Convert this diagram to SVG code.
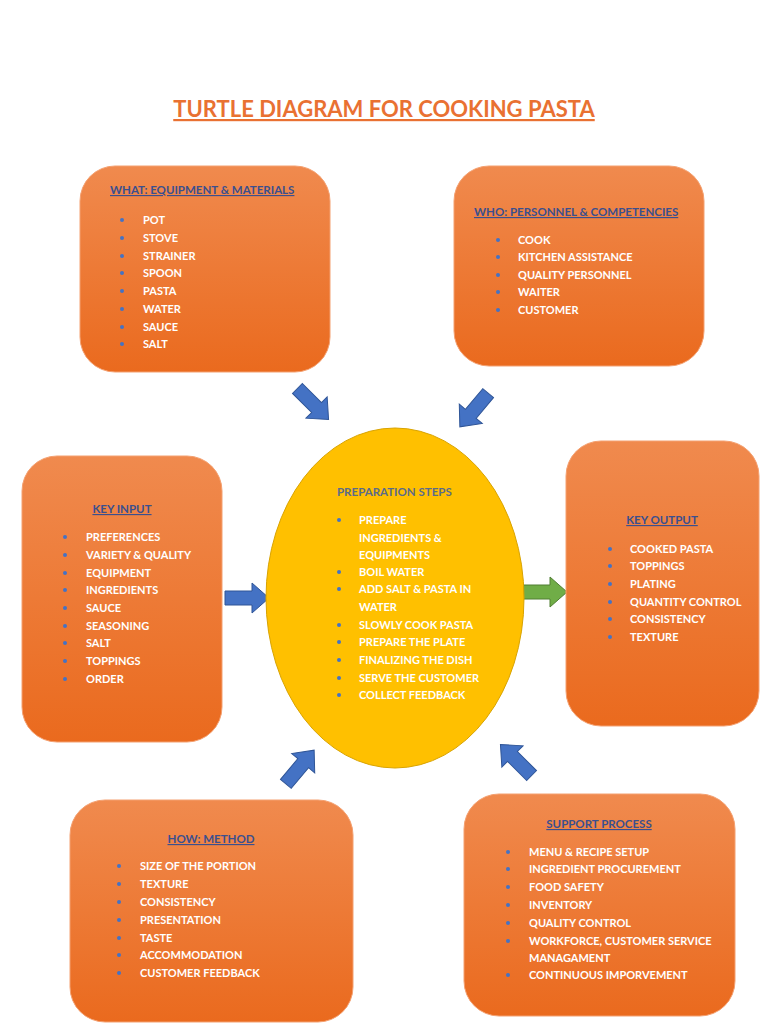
<svg xmlns="http://www.w3.org/2000/svg" width="768" height="1024" viewBox="0 0 768 1024">
<defs>
<linearGradient id="og" x1="0" y1="0" x2="0" y2="1"><stop offset="0" stop-color="#F08A4E"/><stop offset="1" stop-color="#EA6A1E"/></linearGradient>
<path id="arr" d="M-22,-7 L5,-7 L5,-15 L22,0 L5,15 L5,7 L-22,7Z"/>
</defs>
<style>
text{font-family:Lato,"Open Sans","Liberation Sans",sans-serif;font-weight:bold;font-size:11px}
.box{fill:url(#og);stroke:#F4A070;stroke-width:1}
.h{fill:#3B4F8E;text-decoration:underline;font-size:11.5px}
.i{fill:#FFFFFF}
.b{fill:#4472C4}
.a{fill:#4472C4;stroke:#2F5597;stroke-width:1}
</style>
<rect width="768" height="1024" fill="#fff"/>
<text x="384" y="117" text-anchor="middle" style="font-size:22px;fill:#E97132;text-decoration:underline">TURTLE DIAGRAM FOR COOKING PASTA</text>

<g id="connectors">
<use href="#arr" class="a" transform="translate(313,404) rotate(45)"/>
<use href="#arr" class="a" transform="translate(474,410) rotate(130)"/>
<use href="#arr" class="a" transform="translate(247,598)"/>
<use href="#arr" transform="translate(545,592)" style="fill:#70AD47;stroke:#507E32;stroke-width:1"/>
<use href="#arr" class="a" transform="translate(300,767) rotate(-50)"/>
<use href="#arr" class="a" transform="translate(516,760) rotate(-135)"/>
</g>

<g id="what">
<rect class="box" x="80" y="166" width="250" height="206" rx="35"/>
<text class="h" x="110" y="194">WHAT: EQUIPMENT &amp; MATERIALS</text>
<g class="b"><circle cx="122" cy="220" r="2"/><circle cx="122" cy="238" r="2"/><circle cx="122" cy="256" r="2"/><circle cx="122" cy="273" r="2"/><circle cx="122" cy="291" r="2"/><circle cx="122" cy="309" r="2"/><circle cx="122" cy="327" r="2"/><circle cx="122" cy="344" r="2"/></g>
<g class="i"><text x="143" y="224">POT</text><text x="143" y="242">STOVE</text><text x="143" y="260">STRAINER</text><text x="143" y="277">SPOON</text><text x="143" y="295">PASTA</text><text x="143" y="313">WATER</text><text x="143" y="331">SAUCE</text><text x="143" y="348">SALT</text></g>
</g>

<g id="who">
<rect class="box" x="454" y="166" width="250" height="200" rx="35"/>
<text class="h" x="474" y="216">WHO: PERSONNEL &amp; COMPETENCIES</text>
<g class="b"><circle cx="498" cy="240" r="2"/><circle cx="498" cy="257" r="2"/><circle cx="498" cy="275" r="2"/><circle cx="498" cy="292" r="2"/><circle cx="498" cy="310" r="2"/></g>
<g class="i"><text x="518" y="244">COOK</text><text x="518" y="261">KITCHEN ASSISTANCE</text><text x="518" y="279">QUALITY PERSONNEL</text><text x="518" y="296">WAITER</text><text x="518" y="314">CUSTOMER</text></g>
</g>

<g id="input">
<rect class="box" x="22" y="456" width="200" height="286" rx="35"/>
<text class="h" x="122" y="513" text-anchor="middle">KEY INPUT</text>
<g class="b"><circle cx="65" cy="537" r="2"/><circle cx="65" cy="555" r="2"/><circle cx="65" cy="573" r="2"/><circle cx="65" cy="590" r="2"/><circle cx="65" cy="608" r="2"/><circle cx="65" cy="626" r="2"/><circle cx="65" cy="643" r="2"/><circle cx="65" cy="661" r="2"/><circle cx="65" cy="679" r="2"/></g>
<g class="i"><text x="86" y="541">PREFERENCES</text><text x="86" y="559">VARIETY &amp; QUALITY</text><text x="86" y="577">EQUIPMENT</text><text x="86" y="594">INGREDIENTS</text><text x="86" y="612">SAUCE</text><text x="86" y="630">SEASONING</text><text x="86" y="647">SALT</text><text x="86" y="665">TOPPINGS</text><text x="86" y="683">ORDER</text></g>
</g>

<g id="steps">
<ellipse cx="395" cy="598" rx="129" ry="170" fill="#FFC000" stroke="#D9A300" stroke-width="1"/>
<text x="337" y="496" style="fill:#5B6B8A;font-size:11.5px">PREPARATION STEPS</text>
<g class="b"><circle cx="339" cy="520" r="2"/><circle cx="339" cy="572" r="2"/><circle cx="339" cy="589" r="2"/><circle cx="339" cy="625" r="2"/><circle cx="339" cy="642" r="2"/><circle cx="339" cy="660" r="2"/><circle cx="339" cy="678" r="2"/><circle cx="339" cy="695" r="2"/></g>
<g class="i"><text x="359" y="524">PREPARE</text><text x="359" y="542">INGREDIENTS &amp;</text><text x="359" y="559">EQUIPMENTS</text><text x="359" y="576">BOIL WATER</text><text x="359" y="593">ADD SALT &amp; PASTA IN</text><text x="359" y="611">WATER</text><text x="359" y="629">SLOWLY COOK PASTA</text><text x="359" y="646">PREPARE THE PLATE</text><text x="359" y="664">FINALIZING THE DISH</text><text x="359" y="682">SERVE THE CUSTOMER</text><text x="359" y="699">COLLECT FEEDBACK</text></g>
</g>

<g id="output">
<rect class="box" x="566" y="441" width="193" height="285" rx="35"/>
<text class="h" x="662" y="524" text-anchor="middle">KEY OUTPUT</text>
<g class="b"><circle cx="610" cy="549" r="2"/><circle cx="610" cy="566" r="2"/><circle cx="610" cy="584" r="2"/><circle cx="610" cy="602" r="2"/><circle cx="610" cy="619" r="2"/><circle cx="610" cy="637" r="2"/></g>
<g class="i"><text x="630" y="553">COOKED PASTA</text><text x="630" y="570">TOPPINGS</text><text x="630" y="588">PLATING</text><text x="630" y="606">QUANTITY CONTROL</text><text x="630" y="623">CONSISTENCY</text><text x="630" y="641">TEXTURE</text></g>
</g>

<g id="how">
<rect class="box" x="70" y="800" width="283" height="222" rx="35"/>
<text class="h" x="211" y="843" text-anchor="middle">HOW: METHOD</text>
<g class="b"><circle cx="119" cy="866" r="2"/><circle cx="119" cy="884" r="2"/><circle cx="119" cy="902" r="2"/><circle cx="119" cy="920" r="2"/><circle cx="119" cy="938" r="2"/><circle cx="119" cy="955" r="2"/><circle cx="119" cy="973" r="2"/></g>
<g class="i"><text x="140" y="870">SIZE OF THE PORTION</text><text x="140" y="888">TEXTURE</text><text x="140" y="906">CONSISTENCY</text><text x="140" y="924">PRESENTATION</text><text x="140" y="942">TASTE</text><text x="140" y="959">ACCOMMODATION</text><text x="140" y="977">CUSTOMER FEEDBACK</text></g>
</g>

<g id="support">
<rect class="box" x="464" y="794" width="271" height="222" rx="35"/>
<text class="h" x="599" y="828" text-anchor="middle">SUPPORT PROCESS</text>
<g class="b"><circle cx="508" cy="852" r="2"/><circle cx="508" cy="869" r="2"/><circle cx="508" cy="887" r="2"/><circle cx="508" cy="905" r="2"/><circle cx="508" cy="923" r="2"/><circle cx="508" cy="941" r="2"/><circle cx="508" cy="975" r="2"/></g>
<g class="i"><text x="529" y="856">MENU &amp; RECIPE SETUP</text><text x="529" y="873">INGREDIENT PROCUREMENT</text><text x="529" y="891">FOOD SAFETY</text><text x="529" y="909">INVENTORY</text><text x="529" y="927">QUALITY CONTROL</text><text x="529" y="945">WORKFORCE, CUSTOMER SERVICE</text><text x="529" y="962">MANAGAMENT</text><text x="529" y="979">CONTINUOUS IMPORVEMENT</text></g>
</g>
</svg>
